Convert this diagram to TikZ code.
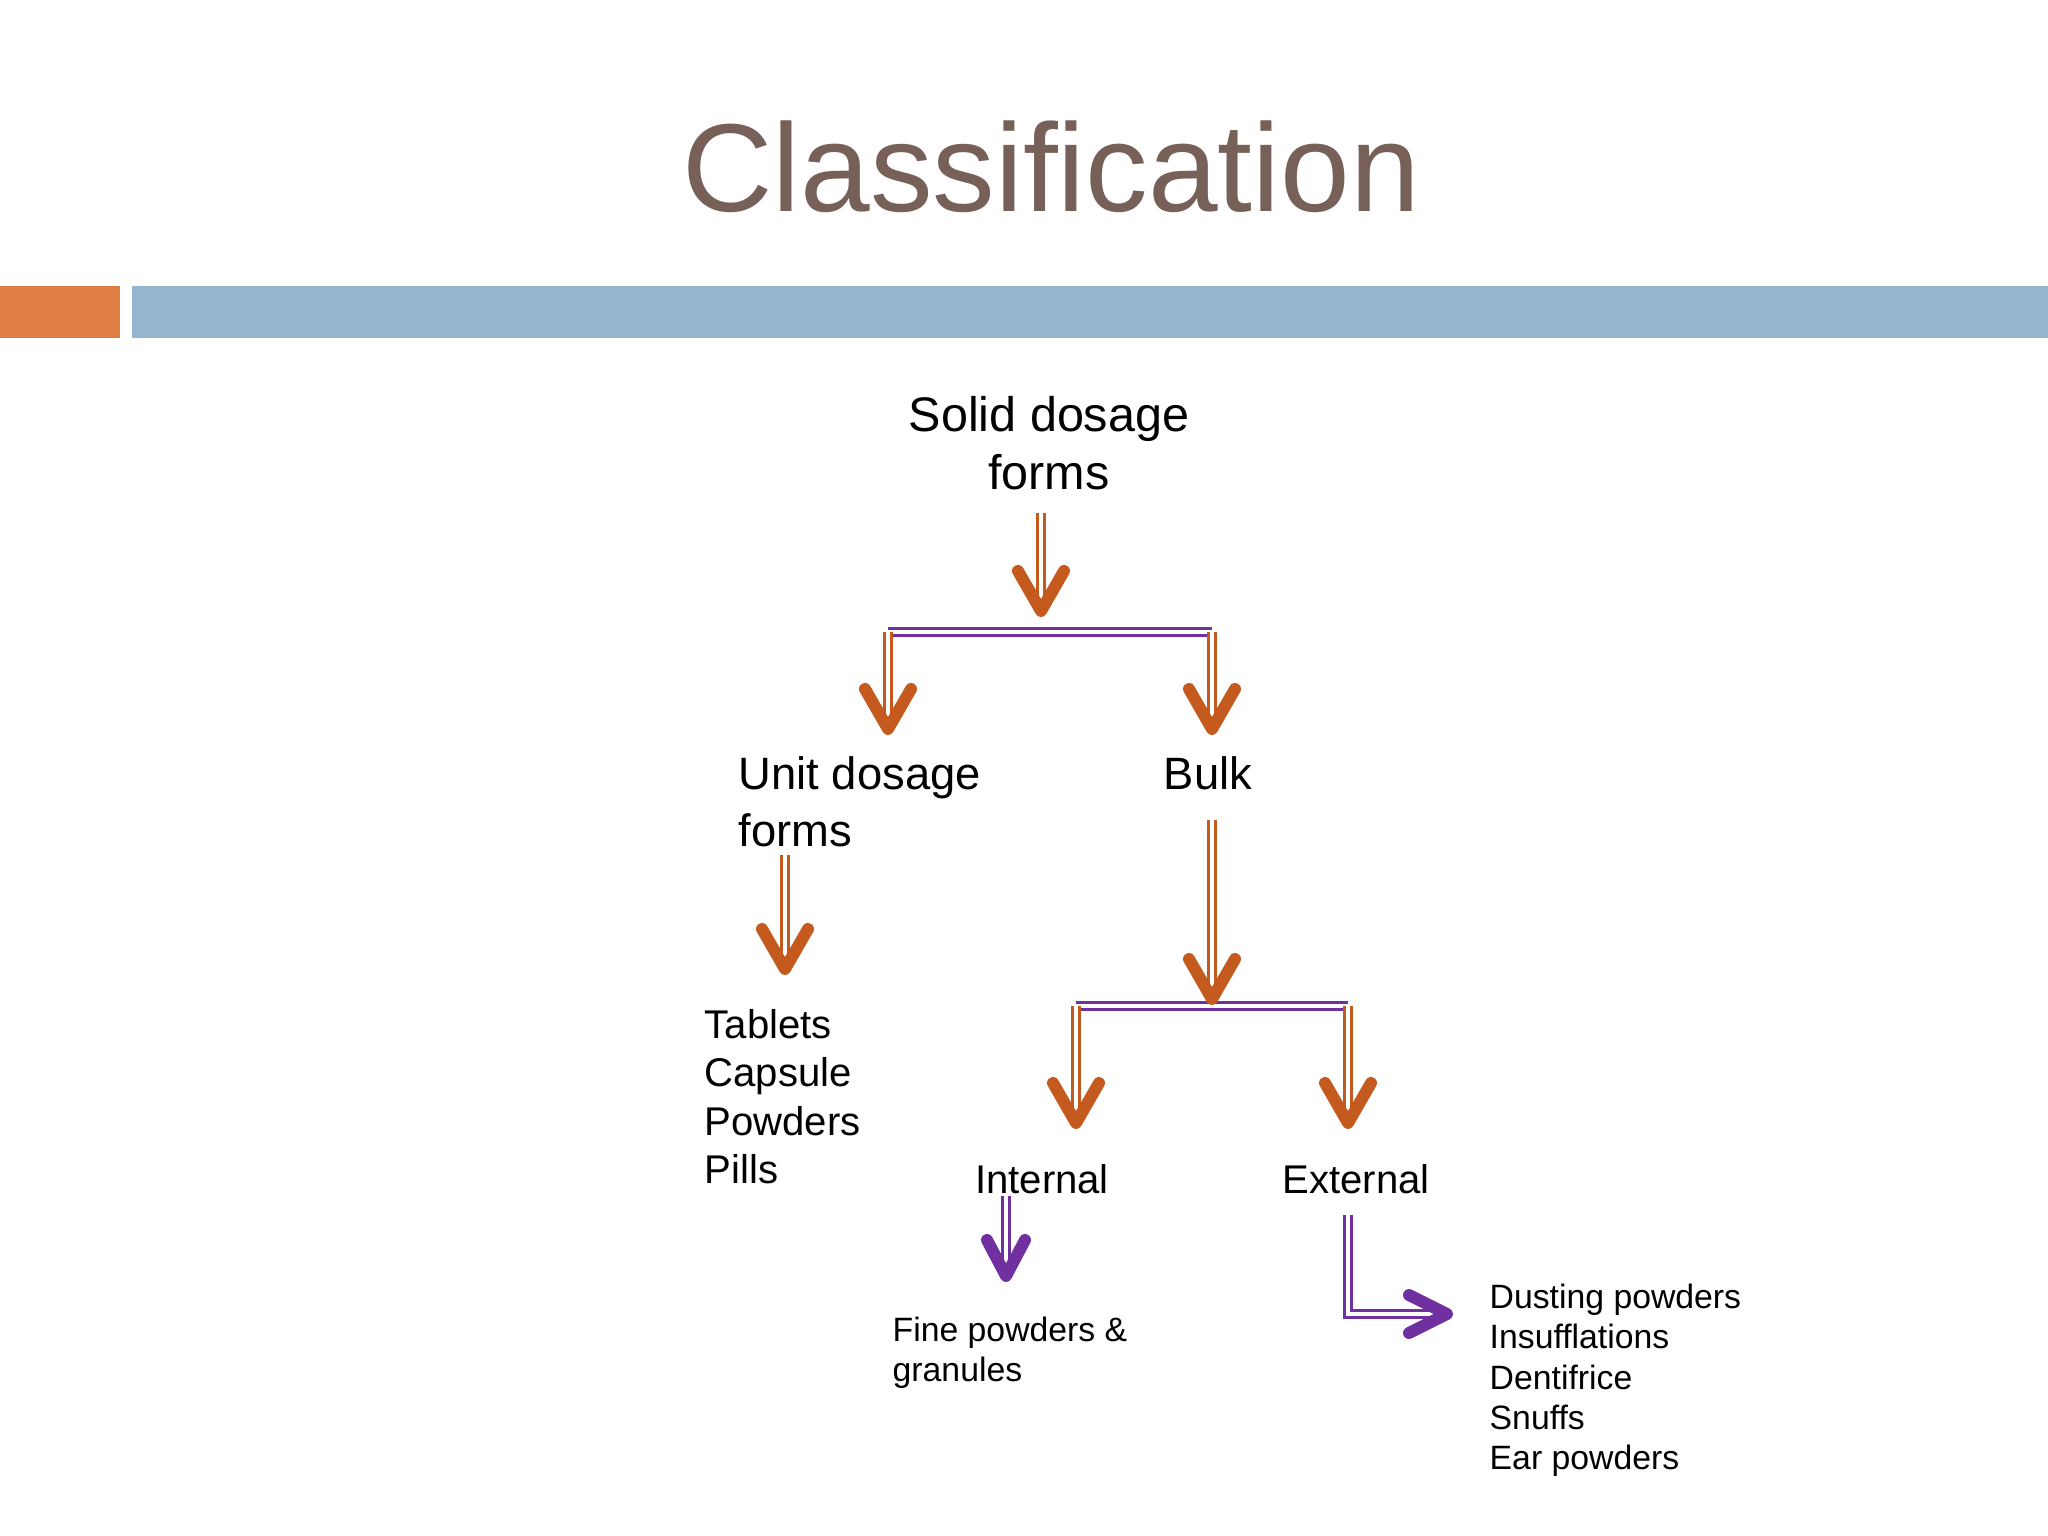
\documentclass[tikz,border=0pt]{standalone}
\usepackage{fontspec}
\setmainfont{Liberation Sans}
\usetikzlibrary{calc}
\definecolor{ttl}{RGB}{118,96,87}
\definecolor{org}{RGB}{224,127,68}
\definecolor{blu}{RGB}{148,180,207}
\definecolor{arr}{RGB}{196,90,30}
\definecolor{pur}{RGB}{112,48,160}
\begin{document}
\begin{tikzpicture}[x=0.01cm,y=-0.01cm,
  big/.style={inner sep=0pt,align=center,font=\fontsize{12.9}{16.3}\selectfont},
  bigl/.style={inner sep=0pt,align=left,font=\fontsize{12.9}{16.3}\selectfont},
  mid/.style={inner sep=0pt,align=left,font=\fontsize{11.4}{13.7}\selectfont},
  sml/.style={inner sep=0pt,align=left,font=\fontsize{9.6}{11.5}\selectfont},
  shaft/.style={draw=#1,line width=0.7pt,double=white,double distance=1.3pt},
  chev/.style={draw=#1,line width=3.4pt,line cap=round,line join=round}]
\useasboundingbox (0,0) rectangle (2048,1536);
\fill[white] (0,0) rectangle (2048,1536);
\node[text=ttl,font=\fontsize{35.6}{40}\selectfont] (title) at (1051,167) {Classification};
\fill[org] (0,286) rectangle (120,338);
\fill[blu] (132,286) rectangle (2048,338);

\node[big,anchor=north,font=\fontsize{13.8}{16.3}\selectfont] (solid) at (1049,396) {Solid dosage\\forms};
\node[bigl,anchor=north west] (unit) at (738,756) {Unit dosage\\forms};
\node[big,anchor=north] (bulk) at (1208,756) {Bulk};
\node[mid,anchor=north west] (list1) at (704,1009) {Tablets\\Capsule\\Powders\\Pills};
\node[big,anchor=north,font=\fontsize{11.4}{13}\selectfont] (int) at (1042,1164) {Internal};
\node[big,anchor=north,font=\fontsize{11.4}{13}\selectfont] (ext) at (1356,1164) {External};
\node[sml,anchor=north west] (fine) at (892,1316) {Fine powders \&\\granules};
\node[sml,anchor=north west] (list2) at (1489,1283) {Dusting powders\\Insufflations\\Dentifrice\\Snuffs\\Ear powders};

\coordinate (a1s) at (1041,513); \coordinate (a1e) at (1041,611);
\coordinate (b1l) at (888,632); \coordinate (b1r) at (1212,632);
\coordinate (a2e) at (888,729); \coordinate (a3e) at (1212,729);
\coordinate (a4s) at (785,855); \coordinate (a4e) at (785,969);
\coordinate (a5s) at (1212,820); \coordinate (a5e) at (1212,999);
\coordinate (b2l) at (1076,1006); \coordinate (b2r) at (1348,1006);
\coordinate (a6e) at (1076,1123); \coordinate (a7e) at (1348,1123);
\coordinate (a8s) at (1006,1196); \coordinate (a8e) at (1006,1276);
\coordinate (a9s) at (1348,1215); \coordinate (a9c) at (1348,1314); \coordinate (a9e) at (1447,1314);

\draw[shaft=pur] (b1l) -- (b1r);
\draw[shaft=pur] (b2l) -- (b2r);
\foreach \s/\e in {a1s/a1e,b1l/a2e,b1r/a3e,a4s/a4e,a5s/a5e,b2l/a6e,b2r/a7e}{
  \draw[shaft=arr] (\s) -- ($(\e)+(0,-8)$);
  \draw[chev=arr] ($(\e)+(-23,-40)$) -- (\e) -- ($(\e)+(23,-40)$);
}
\draw[shaft=pur] (a8s) -- ($(a8e)+(0,-8)$);
\draw[chev=pur] ($(a8e)+(-19,-36)$) -- (a8e) -- ($(a8e)+(19,-36)$);
\draw[shaft=pur] (a9s) -- (a9c) -- ($(a9e)+(-8,0)$);
\draw[chev=pur] ($(a9e)+(-38,-19)$) -- (a9e) -- ($(a9e)+(-38,19)$);
\end{tikzpicture}
\end{document}
